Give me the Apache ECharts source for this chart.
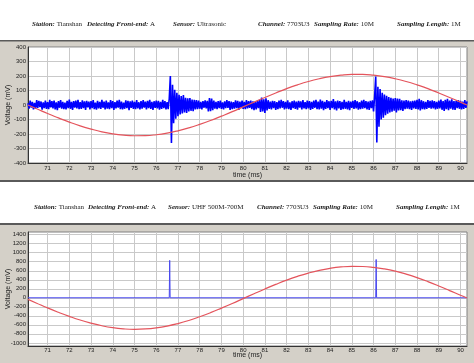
<!DOCTYPE html>
<html><head><meta charset="utf-8">
<script src="https://cdn.jsdelivr.net/npm/echarts@6/dist/echarts.min.js"></script>
<style>html,body{margin:0;padding:0;background:#fff}#c{width:474px;height:363px}</style>
</head><body><div id="c"></div>
<script>
// ---------- data ----------
const xTickLabels = [71,72,73,74,75,76,77,78,79,80,81,82,83,84,85,86,87,88,89,90];
const topYTicks = [-400,-300,-200,-100,0,100,200,300,400];
const bottomYTicks = [-1000,-800,-600,-400,-200,0,200,400,600,800,1000,1200,1400];

// top (ultrasonic) signal, sampled every 0.05 ms from 70.10 ms
const sampleStart = 70.1;
const sampleStep = 0.05;
const topBlueMv = [
 12,-25,30,-18,22,-30,15,-26,34,-20,28,-15,24,-32,18,-22,30,-27,
 20,-28,35,-16,26,-24,31,-30,18,-35,27,-19,33,-25,22,-28,16,-31,29,-21,
 38,-26,21,-33,27,-18,30,-24,36,-29,19,-27,32,-22,25,-34,28,-17,23,-30,
 26,-21,34,-28,17,-32,29,-23,21,-27,35,-19,24,-31,30,-25,18,-29,33,-22,
 27,-34,20,-24,31,-18,36,-28,23,-30,17,-26,32,-21,28,-35,25,-19,30,-27,
 22,-29,34,-23,19,-31,27,-25,33,-18,24,-30,29,-22,36,-27,21,-33,26,-20,
 31,-24,28,-32,22,-27,35,-21,26,-30,19,-28,45,200,-262,140,-125,105,-95,85,
 -78,70,-66,62,-58,68,-52,50,-55,46,-44,48,-40,38,-42,35,-30,33,-28,31,
 -26,22,-30,27,-19,32,-24,28,-45,48,-42,44,-36,30,-25,21,-29,26,-22,30,
 -27,18,-31,25,-22,34,-20,27,-33,23,-28,19,-25,32,-21,29,-34,24,-18,30,
 -26,22,-29,33,-24,27,-20,31,-28,25,-35,21,-30,28,-22,35,-48,52,-45,40,
 -55,46,-38,33,-27,24,-31,29,-22,26,-33,20,-28,31,-24,35,-19,27,-30,22,
 -25,32,-29,18,-34,26,-21,30,-27,23,-32,28,-18,25,-30,34,-23,20,-28,31,
 -24,27,-33,21,-26,30,-19,35,-28,24,-31,38,-25,29,-36,22,-27,33,-21,26,
 -34,28,-22,40,-30,25,-38,31,-24,27,-33,22,-29,36,-26,21,-31,28,-35,24,
 -20,29,-27,33,-23,26,-32,19,-28,30,-25,35,-21,27,-30,24,-34,29,-22,32,
 -45,60,196,-258,125,-150,110,-100,85,-88,72,-70,64,-60,55,-52,50,-46,44,-40,
 48,-52,45,-38,42,-36,33,-40,30,-28,34,-26,31,-29,25,-33,28,-24,30,-27,
 36,-30,42,-38,33,-28,26,-31,22,-27,34,-20,29,-25,32,-23,27,-30,21,-26,
 31,-24,38,-33,27,-40,35,-28,42,-36,30,-25,39,-32,27,-34,29,-22,33,-26,
 28,-31,24,-27,33,-20,25
];

// power-frequency reference (red), read every 0.5 ms
const redTimes = [70.1,70.5,71,71.5,72,72.5,73,73.5,74,74.5,75,75.5,76,76.5,77,77.5,78,78.5,79,79.5,
  80,80.5,81,81.5,82,82.5,83,83.5,84,84.5,85,85.5,86,86.5,87,87.5,88,88.5,89,89.5,90,90.3];
const topRedMv = [0,-26,-59,-89,-118,-144,-166,-185,-199,-208,-212,-211,-205,-194,-178,-158,-134,-107,-77,-46,
  -13,20,52,83,113,139,162,181,196,206,211,211,206,196,181,162,139,113,83,52,20,0];
const bottomRedMv = [-35,-120,-225,-322,-412,-494,-563,-621,-664,-690,-700,-692,-668,-628,-572,-503,-421,-330,-230,-126,
  -18,90,196,297,392,476,549,609,654,684,697,694,675,640,590,525,448,360,263,160,55,-5];

// UHF signal (bottom, blue)
const bottomBlueTimes = [70.1,76.6,76.62,76.64,86.1,86.12,86.14,90.3];
const bottomBlueMv = [0,0,830,0,0,850,0,0];

const topHeader = [['Station:','Tianshan'],['Detecting Front-end:','A'],['Sensor:','Ultrasonic'],
  ['Channel:','7703U3'],['Sampling Rate:','10M'],['Sampling Length:','1M']];
const bottomHeader = [['Station:','Tianshan'],['Detecting Front-end:','A'],['Sensor:','UHF 500M-700M'],
  ['Channel:','7703U3'],['Sampling Rate:','10M'],['Sampling Length:','1M']];

// ---------- build ----------
const topBlue = topBlueMv.map((v,i)=>[+(sampleStart + i*sampleStep).toFixed(3), v]);
const topRed = redTimes.map((t,i)=>[t, topRedMv[i]]);
const bottomRed = redTimes.map((t,i)=>[t, bottomRedMv[i]]);
const bottomBlue = bottomBlueTimes.map((t,i)=>[t, bottomBlueMv[i]]);

const PANEL = '#d4d0c8';
const AX_FONT = 'Liberation Sans';
const headerXTop = [32,87,173,258,314,397];
const headerXBot = [34,88,168,257,313,396];

function headerEls(items, xs, y){
  return items.map((it,i)=>({
    type:'text', x:xs[i], y:y, z:10, silent:true,
    style:{
      text:'{b|'+it[0]+'} '+it[1],
      fontFamily:'Liberation Serif', fontSize:7, fill:'#1a1a1a',
      verticalAlign:'middle',
      rich:{ b:{ fontFamily:'Liberation Serif', fontSize:7, fontStyle:'italic', fontWeight:'bold', fill:'#1a1a1a' } }
    }
  }));
}

const plain = v => String(v);

function xAxisCfg(gi, nameGap, labelMargin){
  return {
    gridIndex:gi, type:'value', min:70.1, max:90.3,
    name:'time (ms)', nameLocation:'middle', nameGap:nameGap, nameMoveOverlap:false,
    nameTextStyle:{fontFamily:AX_FONT, fontSize:7, color:'#222'},
    axisLine:{show:true, onZero:false, lineStyle:{color:'#333', width:1}},
    axisTick:{show:false, customValues:xTickLabels},
    axisLabel:{customValues:xTickLabels, formatter:plain, fontFamily:AX_FONT, fontSize:6, color:'#222', margin:labelMargin, hideOverlap:false},
    splitLine:{show:true, lineStyle:{color:'#c9c9c9', width:1}}
  };
}
function yAxisCfg(gi, min, max, ticks){
  return {
    gridIndex:gi, type:'value', min:min, max:max,
    name:'Voltage (mV)', nameLocation:'middle', nameGap:16, nameRotate:90, nameMoveOverlap:false,
    nameTextStyle:{fontFamily:AX_FONT, fontSize:7, color:'#222'},
    axisLine:{show:true, lineStyle:{color:'#333', width:1}},
    axisTick:{show:false, customValues:ticks},
    axisLabel:{customValues:ticks, formatter:plain, fontFamily:AX_FONT, fontSize:6, color:'#222', margin:2, showMinLabel:true, showMaxLabel:true, hideOverlap:false},
    splitLine:{show:true, lineStyle:{color:'#c9c9c9', width:1}}
  };
}

const chart = echarts.init(document.getElementById('c'), null, {renderer:'canvas'});
chart.setOption({
  animation:false,
  backgroundColor:'#ffffff',
  graphic:[
    {type:'rect', z:-10, silent:true, shape:{x:0,y:40,width:474,height:142}, style:{fill:PANEL}},
    {type:'rect', z:-9, silent:true, shape:{x:0,y:40,width:474,height:1.5}, style:{fill:'#5a5a5a'}},
    {type:'rect', z:-9, silent:true, shape:{x:0,y:180,width:474,height:2}, style:{fill:'#5a5a5a'}},
    {type:'rect', z:-10, silent:true, shape:{x:0,y:223,width:474,height:140}, style:{fill:PANEL}},
    {type:'rect', z:-9, silent:true, shape:{x:0,y:223,width:474,height:2}, style:{fill:'#5a5a5a'}},
    ...headerEls(topHeader, headerXTop, 24),
    ...headerEls(bottomHeader, headerXBot, 207)
  ],
  grid:[
    {left:28, right:7, top:47, height:116, show:true, containLabel:false, outerBoundsMode:'none',
     backgroundColor:'#fff', borderColor:'#808080', borderWidth:1},
    {left:28, right:7, top:232, height:114, show:true, containLabel:false, outerBoundsMode:'none',
     backgroundColor:'#fff', borderColor:'#808080', borderWidth:1}
  ],
  xAxis:[xAxisCfg(0, 9, 2), xAxisCfg(1, 6, 1)],
  yAxis:[yAxisCfg(0, -400, 400, topYTicks), yAxisCfg(1, -1070, 1460, bottomYTicks)],
  series:[
    {type:'line', xAxisIndex:0, yAxisIndex:0, data:topBlue, showSymbol:false, symbol:'none',
     lineStyle:{color:'#0000ff', width:1.6}, z:2},
    {type:'line', xAxisIndex:0, yAxisIndex:0, data:topRed, showSymbol:false, symbol:'none', smooth:true,
     lineStyle:{color:'#e4545c', width:1.2}, z:3},
    {type:'line', xAxisIndex:1, yAxisIndex:1, data:bottomBlue, showSymbol:false, symbol:'none',
     lineStyle:{color:'#4848f0', width:1}, z:2},
    {type:'line', xAxisIndex:1, yAxisIndex:1, data:bottomRed, showSymbol:false, symbol:'none', smooth:true,
     lineStyle:{color:'#e4545c', width:1.2}, z:3}
  ]
});
</script></body></html>
